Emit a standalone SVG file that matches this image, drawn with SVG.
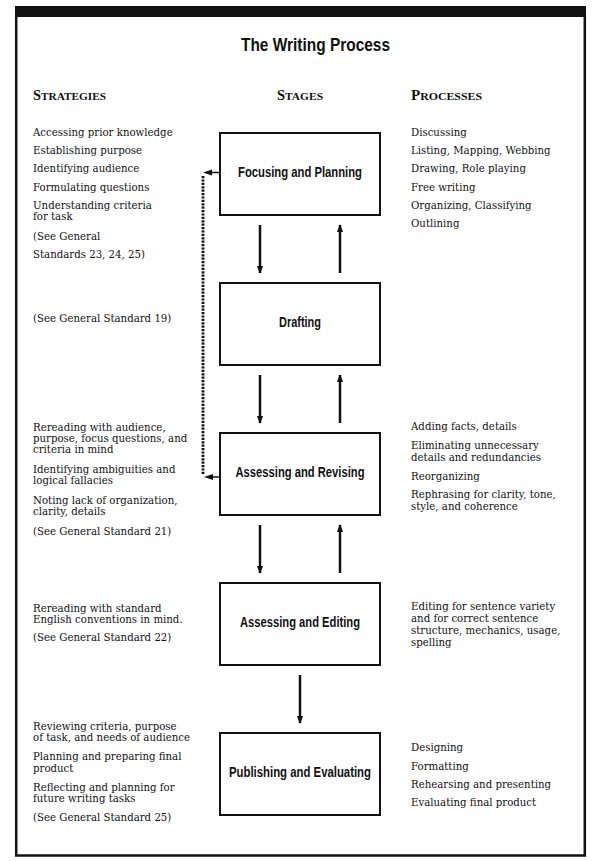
<svg xmlns="http://www.w3.org/2000/svg" width="603" height="861" viewBox="0 0 603 861">
<style>
.frame{fill:none;stroke:#111;stroke-width:2.5}
.box{fill:#fff;stroke:#111;stroke-width:2}
.lbl{font-family:"Liberation Sans",Arial,sans-serif;font-weight:bold;font-size:14px;fill:#111;text-anchor:middle}
.title{font-family:"Liberation Sans",Arial,sans-serif;font-weight:bold;font-size:19px;fill:#111}
.hdr{font-family:"Liberation Serif","Times New Roman",serif;font-weight:bold;font-size:11px;fill:#111}
.hdr .big{font-size:14px}
.t{font-family:"DejaVu Serif","Liberation Serif",serif;font-size:10.2px;fill:#111}
.arr{stroke:#111;stroke-width:2.5;fill:none;marker-end:url(#ah)}
.dot{stroke:#111;stroke-width:2.8;fill:none;stroke-dasharray:2.2 1.2}
.ln{stroke:#111;stroke-width:1.5;fill:none}
</style>
<defs>
<marker id="ah" viewBox="0 0 10 10" refX="9" refY="5" markerWidth="3.2" markerHeight="4.2" markerUnits="strokeWidth" orient="auto">
<path d="M0,1 L10,5 L0,9 Z" fill="#111"/>
</marker>
</defs>
<g id="frame">
<rect x="15" y="6" width="571" height="11" fill="#111"/>
<path class="frame" d="M16.2,16 V855.5 H584.8 V16"/>
</g>
<g id="headings">
<text class="title" x="241" y="51" textLength="149" lengthAdjust="spacingAndGlyphs">The Writing Process</text>
<text class="hdr" x="33" y="100" textLength="73" lengthAdjust="spacingAndGlyphs"><tspan class="big">S</tspan>TRATEGIES</text>
<text class="hdr" x="277" y="100" textLength="46" lengthAdjust="spacingAndGlyphs"><tspan class="big">S</tspan>TAGES</text>
<text class="hdr" x="411" y="100" textLength="71" lengthAdjust="spacingAndGlyphs"><tspan class="big">P</tspan>ROCESSES</text>
</g>
<g id="connectors">
<path class="arr" d="M260,225 V273"/>
<path class="arr" d="M340,273 V225"/>
<path class="arr" d="M260,375 V423"/>
<path class="arr" d="M340,423 V375"/>
<path class="arr" d="M260,525 V573"/>
<path class="arr" d="M340,573 V525"/>
<path class="arr" d="M300,675 V723"/>
<path class="dot" d="M203,176 V474"/>
<path class="ln" d="M208,172.5 H219"/>
<path class="ln" d="M208,477 H219"/>
<path d="M203,172.5 L212,169.5 L212,175.5 Z" fill="#111"/>
<path d="M204,477 L213,474 L213,480 Z" fill="#111"/>
</g>
<g id="focusing">
<rect class="box" x="220" y="133" width="160" height="82"/>
<text class="lbl" x="300" y="177" textLength="124" lengthAdjust="spacingAndGlyphs">Focusing and Planning</text>
</g>
<g id="drafting">
<rect class="box" x="220" y="283" width="160" height="82"/>
<text class="lbl" x="300" y="327" textLength="42" lengthAdjust="spacingAndGlyphs">Drafting</text>
</g>
<g id="revising">
<rect class="box" x="220" y="433" width="160" height="82"/>
<text class="lbl" x="300" y="477" textLength="129" lengthAdjust="spacingAndGlyphs">Assessing and Revising</text>
</g>
<g id="editing">
<rect class="box" x="220" y="583" width="160" height="82"/>
<text class="lbl" x="300" y="627" textLength="120" lengthAdjust="spacingAndGlyphs">Assessing and Editing</text>
</g>
<g id="publishing">
<rect class="box" x="220" y="733" width="160" height="82"/>
<text class="lbl" x="300" y="777" textLength="142" lengthAdjust="spacingAndGlyphs">Publishing and Evaluating</text>
</g>
<g id="strategies">
<text class="t" x="33" y="136">Accessing prior knowledge</text>
<text class="t" x="33" y="154">Establishing purpose</text>
<text class="t" x="33" y="172">Identifying audience</text>
<text class="t" x="33" y="191">Formulating questions</text>
<text class="t" x="33" y="209">Understanding criteria</text>
<text class="t" x="33" y="220">for task</text>
<text class="t" x="33" y="240">(See General</text>
<text class="t" x="33" y="258">Standards 23, 24, 25)</text>
<text class="t" x="33" y="322">(See General Standard 19)</text>
<text class="t" x="33" y="431">Rereading with audience,</text>
<text class="t" x="33" y="442">purpose, focus questions, and</text>
<text class="t" x="33" y="453">criteria in mind</text>
<text class="t" x="33" y="473">Identifying ambiguities and</text>
<text class="t" x="33" y="484">logical fallacies</text>
<text class="t" x="33" y="504">Noting lack of organization,</text>
<text class="t" x="33" y="515">clarity, details</text>
<text class="t" x="33" y="535">(See General Standard 21)</text>
<text class="t" x="33" y="612">Rereading with standard</text>
<text class="t" x="33" y="623">English conventions in mind.</text>
<text class="t" x="33" y="641">(See General Standard 22)</text>
<text class="t" x="33" y="730">Reviewing criteria, purpose</text>
<text class="t" x="33" y="741">of task, and needs of audience</text>
<text class="t" x="33" y="760">Planning and preparing final</text>
<text class="t" x="33" y="772">product</text>
<text class="t" x="33" y="791">Reflecting and planning for</text>
<text class="t" x="33" y="802">future writing tasks</text>
<text class="t" x="33" y="821">(See General Standard 25)</text>
</g>
<g id="processes">
<text class="t" x="411" y="136">Discussing</text>
<text class="t" x="411" y="154">Listing, Mapping, Webbing</text>
<text class="t" x="411" y="172">Drawing, Role playing</text>
<text class="t" x="411" y="191">Free writing</text>
<text class="t" x="411" y="209">Organizing, Classifying</text>
<text class="t" x="411" y="227">Outlining</text>
<text class="t" x="411" y="430">Adding facts, details</text>
<text class="t" x="411" y="449">Eliminating unnecessary</text>
<text class="t" x="411" y="461">details and redundancies</text>
<text class="t" x="411" y="480">Reorganizing</text>
<text class="t" x="411" y="498">Rephrasing for clarity, tone,</text>
<text class="t" x="411" y="510">style, and coherence</text>
<text class="t" x="411" y="610">Editing for sentence variety</text>
<text class="t" x="411" y="622">and for correct sentence</text>
<text class="t" x="411" y="634">structure, mechanics, usage,</text>
<text class="t" x="411" y="646">spelling</text>
<text class="t" x="411" y="751">Designing</text>
<text class="t" x="411" y="770">Formatting</text>
<text class="t" x="411" y="788">Rehearsing and presenting</text>
<text class="t" x="411" y="806">Evaluating final product</text>
</g>
</svg>
